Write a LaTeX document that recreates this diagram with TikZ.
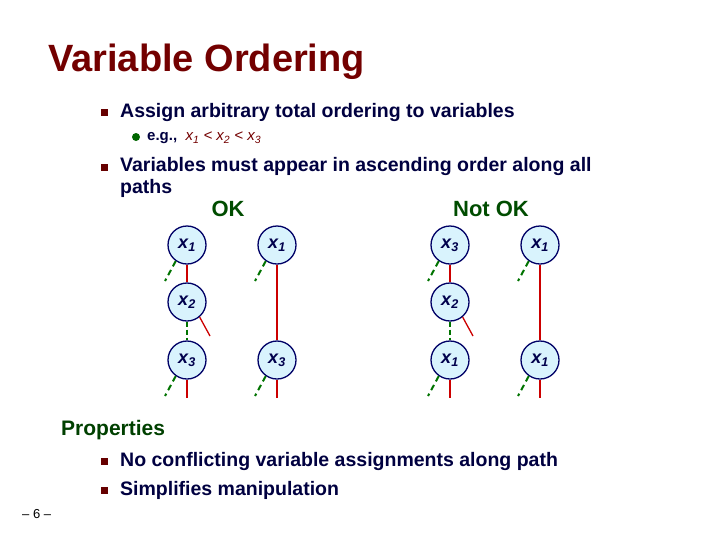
\documentclass[tikz,border=0pt]{standalone}
\usepackage{fontspec}
\setmainfont{Liberation Sans}
\begin{document}
\begin{tikzpicture}[x=1pt,y=-1pt,
  v/.style={circle,draw=blue!40!black,line width=1.3pt,fill=cyan!15,minimum size=38pt,inner sep=0pt,font=\bfseries\itshape\fontsize{18}{18}\selectfont,text=blue!30!black},
  lo/.style={green!45!black,line width=2pt,dash pattern=on 6pt off 4pt},
  hi/.style={red!80!black,line width=1.3pt},
  txt/.style={anchor=west,text=blue!25!black,font=\bfseries\fontsize{19.5}{22}\selectfont,inner sep=0pt},
  bul/.style={fill=red!40!black,minimum size=7pt,inner sep=0pt}]
\useasboundingbox (0,0) rectangle (719,539);
\node[anchor=west,text=red!45!black,font=\bfseries\fontsize{38}{38}\selectfont,inner sep=0pt] (title) at (48,62) {Variable Ordering};
\node[bul] (b1) at (104,112) {};
\node[txt] (t1) at (120,112) {Assign arbitrary total ordering to variables};
\node[circle,fill=green!40!black,minimum size=8pt,inner sep=0pt] (b2) at (136,137) {};
\node[txt,font=\bfseries\fontsize{15}{15}\selectfont] (t2) at (147,138) {e.g.,\ \ {\mdseries\color{red!45!black}\itshape x\textsubscript{1} < x\textsubscript{2} < x\textsubscript{3}}};
\node[bul] (b3) at (104,167) {};
\node[txt,anchor=north west,align=left] (t3) at (120,157) {Variables must appear in ascending order along all\\paths};
\node[text=green!30!black,font=\bfseries\fontsize{22}{22}\selectfont] (ok) at (228,209) {OK};
\node[text=green!30!black,font=\bfseries\fontsize{22}{22}\selectfont] (nok) at (491,209) {Not OK};
\node[v] (a1) at (187,245) {x\textsubscript{1}};
\node[v] (a2) at (187,302) {x\textsubscript{2}};
\node[v] (a3) at (187,360) {x\textsubscript{3}};
\node[v] (c1) at (277,245) {x\textsubscript{1}};
\node[v] (c3) at (277,360) {x\textsubscript{3}};
\node[v] (d1) at (450,245) {x\textsubscript{3}};
\node[v] (d2) at (450,302) {x\textsubscript{2}};
\node[v] (d3) at (450,360) {x\textsubscript{1}};
\node[v] (e1) at (540,245) {x\textsubscript{1}};
\node[v] (e3) at (540,360) {x\textsubscript{1}};
\foreach \n/\x/\y in {a1/187/245,a3/187/360,c1/277/245,c3/277/360,d1/450/245,d3/450/360,e1/540/245,e3/540/360}{
  \coordinate (\n l) at (\x-22,\y+36);
  \draw[lo] (\n.-125) -- (\n l);
}
\foreach \n/\x in {a3/187,c3/277,d3/450,e3/540}{
  \coordinate (\n b) at (\x,398);
  \draw[hi] (\n) -- (\n b);
}
\draw[hi] (a1) -- (a2);
\draw[hi] (d1) -- (d2);
\draw[hi] (c1) -- (c3);
\draw[hi] (e1) -- (e3);
\draw[lo,dash pattern=on 5pt off 3pt] (a2) -- (a3);
\draw[lo,dash pattern=on 5pt off 3pt] (d2) -- (d3);
\coordinate (a2r) at (210,336);
\coordinate (d2r) at (473,336);
\draw[hi] (a2.-50) -- (a2r);
\draw[hi] (d2.-50) -- (d2r);
\node[anchor=west,text=green!25!black,font=\bfseries\fontsize{21}{21}\selectfont,inner sep=0pt] (props) at (61,430) {Properties};
\node[bul] (b4) at (104,461) {};
\node[txt] (t4) at (120,461) {No conflicting variable assignments along path};
\node[bul] (b5) at (104,490) {};
\node[txt] (t5) at (120,490) {Simplifies manipulation};
\node[anchor=west,font=\fontsize{13}{13}\selectfont,inner sep=0pt] (pg) at (22,514) {– 6 –};
\end{tikzpicture}
\end{document}
